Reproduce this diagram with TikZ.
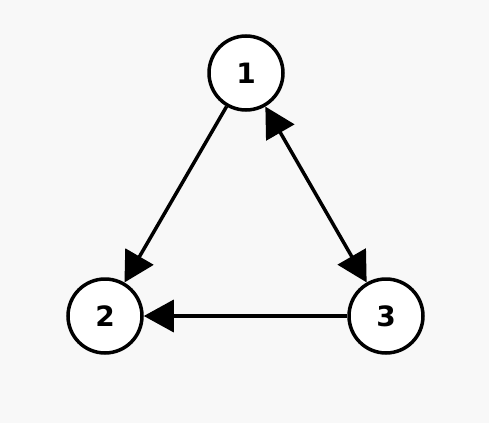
\documentclass[tikz,border=0pt]{standalone}
\usepackage{fontspec}
\setmainfont{DejaVu Sans}
\usetikzlibrary{arrows.meta}
\definecolor{bg}{HTML}{F8F8F8}
\begin{document}
\begin{tikzpicture}[x=1pt,y=-1pt,
  vert/.style={circle,draw=black,fill=white,line width=3.5pt,minimum size=74pt,inner sep=0pt,font=\fontsize{28}{32}\selectfont\bfseries},
  edge/.style={line width=3.5pt,-{Triangle[length=30pt,width=32pt]}}]
\fill[bg] (0,0) rectangle (489,423);
\useasboundingbox (0,0) rectangle (489,423);
\node[vert] (n1) at (246,73) {1};
\node[vert] (n2) at (105,316) {2};
\node[vert] (n3) at (386,316) {3};
\draw[edge] (n1) -- (n2);
\draw[edge] (n3) -- (n2);
\draw[line width=3.5pt,{Triangle[length=30pt,width=32pt]}-{Triangle[length=30pt,width=32pt]}] (n1) -- (n3);
\end{tikzpicture}
\end{document}
